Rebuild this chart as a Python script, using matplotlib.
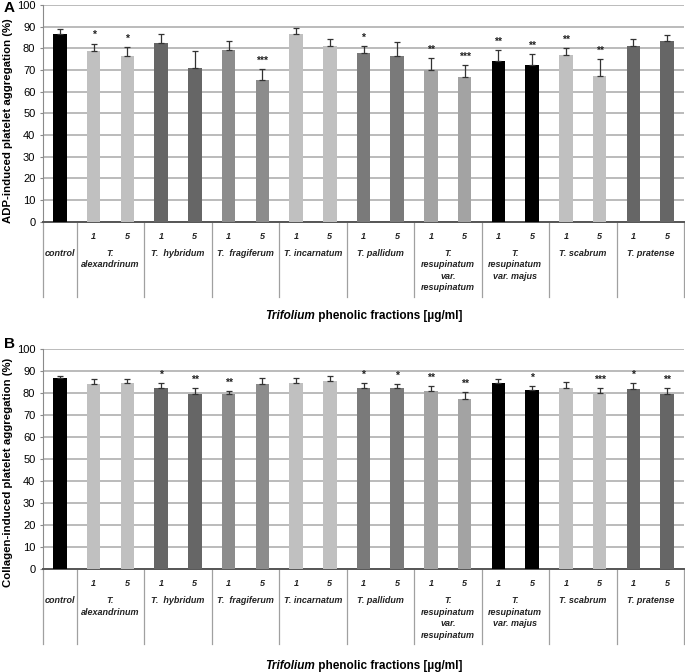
import numpy as np
import matplotlib.pyplot as plt
from matplotlib.transforms import offset_copy

plt.rcParams['font.family'] = ['Liberation Sans', 'DejaVu Sans']

# Trifolium fractions (1 and 5 ug/ml per species)
groups = ['control', 'T.\nalexandrinum', 'T.  hybridum', 'T.  fragiferum', 'T. incarnatum',
          'T. pallidum', 'T.\nresupinatum\nvar.\nresupinatum', 'T.\nresupinatum\nvar. majus',
          'T. scabrum', 'T. pratense']
doses = ['1', '5']
group_colors = ['#000000', '#c0c0c0', '#666666', '#8c8c8c', '#c0c0c0',
                '#7a7a7a', '#a3a3a3', '#000000', '#c0c0c0', '#666666']

# A: ADP-induced
adp_mean = [86.5, 79.0, 76.3, 82.6, 70.8, 79.4, 65.5, 86.8, 81.3, 77.7,
            76.4, 70.0, 66.7, 74.3, 72.1, 77.0, 67.3, 81.2, 83.2]
adp_sd = [2.2, 3.2, 4.3, 3.9, 8.0, 4.0, 4.9, 2.4, 3.1, 3.2,
          6.6, 5.4, 5.4, 5.1, 5.3, 3.3, 7.6, 3.1, 2.9]
adp_sig = ['', '*', '*', '', '', '', '***', '', '', '*',
           '', '**', '***', '**', '**', '**', '**', '', '']

# B: collagen-induced
coll_mean = [86.7, 84.1, 84.4, 82.4, 79.8, 79.4, 84.1, 84.4, 85.6, 82.4,
             82.4, 81.1, 77.1, 84.4, 81.4, 82.4, 80.2, 82.0, 79.7]
coll_sd = [1.2, 2.3, 2.0, 2.0, 2.3, 1.5, 2.6, 2.6, 2.0, 2.3,
           1.5, 1.9, 3.5, 2.1, 1.9, 2.7, 2.2, 2.4, 2.4]
coll_sig = ['', '', '', '*', '**', '**', '', '', '', '*',
            '*', '**', '**', '', '*', '', '***', '*', '**']

W, H = 685, 672
fig = plt.figure(figsize=(W / 100, H / 100), dpi=100)

colors = [group_colors[0]] + [c for c in group_colors[1:] for _ in doses]
x = np.arange(len(colors))


def draw_panel(ax, means, sds, sig, top_px, bot_px):
    ax_h = bot_px - top_px
    ax.bar(x, means, width=0.4, color=colors, zorder=3)
    ax.errorbar(x, means, yerr=[np.zeros(len(sds)), sds], fmt='none',
                ecolor='#333333', elinewidth=0.9, capsize=2, capthick=0.9, zorder=4)
    for xi, m, s, t in zip(x, means, sds, sig):
        if t:
            ax.text(xi, m + s + 1.5, t, ha='center', va='bottom', fontsize=7.5,
                    fontweight='bold', color='#222222')
    ax.set_xlim(-0.5, len(x) - 0.5)
    ax.set_ylim(0, 100)
    ax.set_yticks(range(0, 101, 10))
    ax.yaxis.grid(True, color='#a8a8a8', linewidth=1.1, zorder=0)
    ax.set_axisbelow(True)
    ax.set_xticks([])
    for s in ['top', 'right']:
        ax.spines[s].set_visible(False)
    ax.spines['left'].set_color('#8a8a8a')
    ax.spines['bottom'].set_color('#555555')
    ax.spines['bottom'].set_linewidth(1.4)
    ax.tick_params(axis='y', labelsize=8, length=2.5, color='#8a8a8a', pad=3)

    # category table under the axis
    tr = ax.get_xaxis_transform()
    frac = 75.0 / ax_h
    bounds = [-0.5, 0.5] + [0.5 + 2 * (k + 1) for k in range(len(groups) - 1)]
    for b in bounds:
        ax.plot([b, b], [0, -frac], transform=tr, color='#a0a0a0', lw=0.9, clip_on=False)
    dose_tr = offset_copy(tr, fig=fig, x=0, y=-14.5, units='dots')
    name_tr = offset_copy(tr, fig=fig, x=0, y=-27, units='dots')
    for xi in x[1:]:
        ax.text(xi, 0, doses[(xi - 1) % 2], transform=dose_tr, ha='center', va='center',
                fontsize=6.5, fontweight='bold', fontstyle='italic', color='#222222')
    for k, g in enumerate(groups):
        gx = 0 if k == 0 else 2 * k - 0.5
        ax.text(gx, 0, g, transform=name_tr, ha='center', va='top', fontsize=6.5,
                fontweight='bold', fontstyle='italic', linespacing=1.35, color='#222222')


left_px, right_px = 43, 684
panels = [
    # data, axes top/bottom px, x-label px, y-label centre px, letter px
    (adp_mean, adp_sd, adp_sig, 'ADP-induced platelet aggregation (%)', 'A', 5, 221.7, 316, 121, 8),
    (coll_mean, coll_sd, coll_sig, 'Collagen-induced platelet aggregation (%)', 'B', 349, 569.3, 666, 472, 344),
]
xlabel_texts = []
for means, sds, sig, ylab, letter, top_px, bot_px, xl_px, yl_px, let_px in panels:
    ax = fig.add_axes([left_px / W, 1 - bot_px / H, (right_px - left_px) / W, (bot_px - top_px) / H])
    draw_panel(ax, means, sds, sig, top_px, bot_px)
    fig.text(0.012, 1 - yl_px / H, ylab, rotation=90, ha='center', va='center',
             fontsize=8.2, fontweight='bold')
    fig.text(0.006, 1 - let_px / H, letter, ha='left', va='center',
             fontsize=11, fontweight='bold')
    t1 = fig.text(0, 1 - xl_px / H, 'Trifolium', ha='left', va='center',
                  fontsize=8.5, fontweight='bold', fontstyle='italic')
    t2 = fig.text(0, 1 - xl_px / H, ' phenolic fractions [\u00b5g/ml]', ha='left', va='center',
                  fontsize=8.5, fontweight='bold')
    xlabel_texts.append((t1, t2))

# centre the mixed-style x labels under the axes
fig.canvas.draw()
r = fig.canvas.get_renderer()
xc = (left_px + right_px) / 2
for t1, t2 in xlabel_texts:
    w1 = t1.get_window_extent(r).width
    w2 = t2.get_window_extent(r).width
    x0 = xc - (w1 + w2) / 2
    t1.set_x(x0 / W)
    t2.set_x((x0 + w1) / W)

fig.savefig('out.png', dpi=100)
